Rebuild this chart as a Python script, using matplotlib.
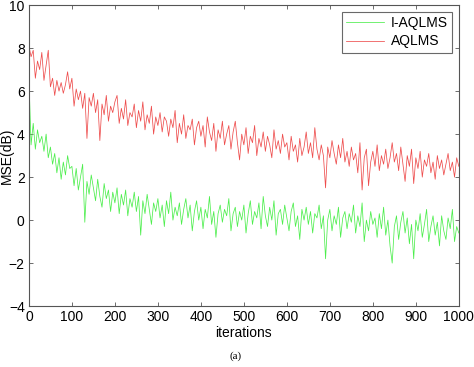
import numpy as np
import matplotlib
matplotlib.use("Agg")
import matplotlib.pyplot as plt

# iterations sampled every 5 steps
iterations = np.arange(0, 1001, 5)

aqlms = [
    8.1, 7.6, 7.9, 6.6, 7.4, 7.0, 7.8, 6.5, 7.2, 7.9,
    6.2, 6.6, 5.8, 6.5, 6.0, 6.4, 5.9, 6.3, 6.9, 6.1,
    6.6, 5.3, 6.1, 5.6, 6.0, 5.2, 5.9, 3.8, 5.7, 5.3,
    5.9, 5.0, 5.6, 3.7, 5.4, 4.9, 5.8, 4.6, 5.3, 5.0,
    5.5, 5.8, 4.5, 5.2, 4.7, 5.6, 4.4, 5.0, 4.8, 5.4,
    4.3, 5.1, 4.6, 5.5, 4.2, 4.9, 4.5, 5.3, 4.0, 4.8,
    4.4, 5.0, 4.1, 4.8, 4.6, 3.9, 4.7, 4.3, 5.1, 3.6,
    4.5, 4.0, 4.9, 3.8, 4.4, 4.2, 4.7, 3.5, 4.3, 4.6,
    3.9, 4.4, 3.4, 4.8, 4.1, 3.7, 4.5, 3.2, 4.2, 3.8,
    4.6, 3.5, 4.0, 4.4, 3.3, 4.1, 4.6, 3.6, 2.8, 4.0,
    3.5, 4.3, 3.1, 3.9, 3.6, 4.4, 3.0, 3.8, 3.4, 4.1,
    3.2, 3.9, 3.5, 2.9, 4.2, 3.3, 3.7, 3.1, 4.0, 3.4,
    3.6, 2.8, 3.9, 3.2, 3.5, 2.7, 3.8, 3.0, 3.4, 4.1,
    3.1, 3.6, 2.9, 4.3, 3.3, 2.8, 3.5, 3.0, 1.5, 3.4,
    2.9, 3.7, 3.1, 2.6, 3.5, 2.9, 3.8, 2.7, 3.2, 2.5,
    3.4, 2.8, 3.1, 2.2, 3.6, 1.4, 2.9, 3.3, 1.6, 2.7,
    3.2, 2.5, 3.5, 2.3, 3.0, 2.6, 3.3, 2.4, 2.9, 3.6,
    2.7, 3.1, 2.3, 3.4, 2.6, 1.8, 3.0, 2.5, 3.3, 1.7,
    2.9, 2.4, 3.2, 2.0, 2.8, 2.5, 3.1, 2.2, 2.7, 1.9,
    3.0, 2.4, 2.8, 2.1, 2.6, 3.1, 2.3, 2.7, 2.0, 2.9,
    2.5,
]

i_aqlms = [
    6.6, 3.5, 4.5, 3.3, 4.2, 3.6, 3.9, 3.2, 4.0, 2.9,
    3.4, 2.6, 3.1, 2.2, 2.9, 1.9, 2.7, 2.1, 3.0, 2.4,
    2.5, 1.6, 2.4, 1.4, 2.0, 2.6, -0.1, 1.8, 1.2, 2.1,
    1.5, 0.9, 1.9, 1.1, 0.6, 1.7, 1.0, 1.4, 0.4, 1.3,
    0.8, 1.5, 0.3, 1.2, 0.7, 1.4, 0.2, 1.0, 0.6, 1.3,
    0.4, 1.1, -0.7, 0.9, 0.3, 1.2, 0.5, -0.2, 0.8, 0.4,
    1.0, 0.1, 0.7, -0.3, 0.9, 0.3, 1.3, 0.0, 0.6, 0.2,
    0.8, -0.2, 0.5, 1.0, 0.1, 0.7, -0.5, 0.4, 0.9, 0.0,
    0.6, -0.4, 0.5, 0.1, 1.1, -0.2, 0.4, -0.8, 0.3, 0.7,
    -0.1, 0.5, 0.2, 1.0, -0.5, 0.3, 0.6, -0.3, 0.4, 0.0,
    0.7, -0.6, 0.3, 0.9, -0.2, 0.4, 0.1, 0.8, -0.4, 1.1,
    0.2, -0.3, 0.6, 0.0, 0.9, -0.7, 0.3, 0.5, -0.2, 0.7,
    0.1, -0.5, 0.4, 0.8, -0.3, 0.2, -0.9, 0.5, 0.0, 0.6,
    -0.2, 0.4, -0.6, 0.3, 0.1, 0.7, -0.4, 0.2, -1.8, 0.0,
    0.5, -0.5, 0.2, -0.2, 0.6, -0.8, 0.1, 0.4, -0.4, 0.3,
    -0.1, 0.7, -0.6, 0.2, -0.3, 0.8, -1.0, 0.0, -0.5, 0.4,
    -0.2, 0.1, -0.8, 0.3, -0.4, 0.6, -0.7, 0.0, -1.2, -2.0,
    -0.3, 0.2, -0.9, -0.1, 0.4, -0.6, 0.1, -1.1, -0.2, -1.8,
    0.0, -0.5, 0.3, -0.8, -0.2, 0.5, -1.0, -0.3, 0.2, -0.7,
    -0.1, -1.2, 0.2, -0.5, -0.9, 0.1, -0.4, 0.5, -1.0, -0.3,
    -0.6,
]

plt.rcParams['font.family'] = ['Liberation Sans', 'DejaVu Sans']
plt.rcParams['font.size'] = 10

fig = plt.figure(figsize=(4.74, 3.67), dpi=100)
ax = fig.add_axes([0.061, 0.166, 0.907, 0.820])

ax.plot(iterations, i_aqlms, color='#4cee4c', lw=0.55, label='I-AQLMS')
ax.plot(iterations, aqlms, color='#ee4c4c', lw=0.55, label='AQLMS')

ax.set_xlim(0, 1000)
ax.set_ylim(-4, 10)
ax.set_xticks(range(0, 1001, 100))
ax.set_yticks(range(-4, 11, 2))
ax.tick_params(direction='in', top=True, right=True, length=3, width=0.6,
               color='#555555', labelsize=10, pad=3)
for s in ax.spines.values():
    s.set_color('#555555')
    s.set_linewidth(0.8)

ax.set_xlabel('iterations', fontsize=10, labelpad=1)
ax.set_ylabel('MSE(dB)', fontsize=10, labelpad=0)
ax.yaxis.set_label_coords(-0.035, 0.5)

leg = ax.legend(loc='upper right', fontsize=10, frameon=True, fancybox=False,
                handlelength=2.7, handletextpad=0.5, borderpad=0.3,
                labelspacing=0.3, borderaxespad=0.5)
leg.get_frame().set_edgecolor('#444444')
leg.get_frame().set_linewidth(0.8)

fig.text(0.498, 0.022, '(a)', fontsize=8, family='Liberation Serif', ha='center')

plt.savefig("out.png", dpi=100)
plt.close()
